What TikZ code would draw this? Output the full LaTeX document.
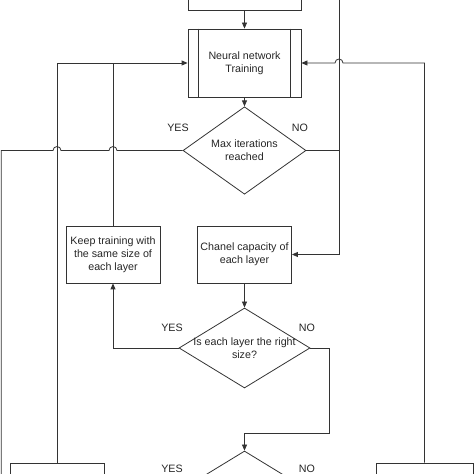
\documentclass[tikz,border=0pt]{standalone}
\usepackage{fontspec}
\setmainfont{Liberation Sans}
\usetikzlibrary{shapes.geometric,arrows.meta}

\begin{document}
\begin{tikzpicture}
  [x=1pt,y=1pt,line width=0.8pt,draw=black!80,text=black!85,
   every node/.style={font=\fontsize{10.7}{13}\selectfont,align=center},
   box/.style={rectangle,draw,inner sep=0pt},
   dec/.style={diamond,draw,inner sep=0pt,minimum width=131pt,minimum height=80pt},
   arr/.style={-{Triangle[length=6pt,width=5pt]}}]
  \useasboundingbox (0,0) rectangle (474,474);
  \clip (0,0) rectangle (474,474);

  \node[box,minimum width=113pt,minimum height=40pt] (tb) at (244.5,484) {};
  \node[box,minimum width=113pt,minimum height=68pt] (train) at (244.5,411) {Neural network\\Training};
  \draw (train.north west) ++(11,0) -- ++(0,-68);
  \draw (train.north east) ++(-11,0) -- ++(0,-68);
  \node[dec,minimum width=123pt,minimum height=75pt] (d1) at (244.5,323.5) {Max iterations\\reached};
  \node[box,minimum width=94pt,minimum height=57pt] (keep) at (113,219.5) {Keep training with\\the same size of\\each layer};
  \node[box,minimum width=94pt,minimum height=57pt] (chan) at (244.5,219.5) {Chanel capacity of\\each layer};
  \node[dec] (d2) at (244.5,126) {\makebox[0pt]{Is each layer the right}\\\makebox[0pt]{size?}};
  \node[dec] (d3) at (244.5,-17) {};
  \node[box,minimum width=94pt,minimum height=40pt] (bl) at (57,-9) {};
  \node[box,minimum width=97pt,minimum height=40pt] (br) at (424.5,-9) {};

  \node (y1) at (178,346) {YES};
  \node (n1) at (300,346) {NO};
  \node (y2) at (172,146) {YES};
  \node (n2) at (307,146) {NO};
  \node (y3) at (172,5) {YES};
  \node (n3) at (307,5) {NO};

  \coordinate (top) at (339,480);
  \coordinate (nc) at (339,219.5);
  \coordinate (sw) at (329,41);

  \foreach \from/\to in {tb/train,train/d1,chan/d2}
  \draw[arr] (\from) -- (\to);

  \draw[arr] (bl.north) |- (train.west);
  \draw (keep.north) -- (113,411);
  \draw[arr] (br.north) -- (424.5,411) -- (343,411) arc (0:180:4) -- (train.east);
  \draw (d1.west) -- (117,323.5) arc (0:180:4) -- (61,323.5) arc (0:180:4)
    -- (1.2,323.5) -- (1.2,-10);
  \draw (top) -- (nc);
  \draw[arr] (d1.east) -| (nc) -- (chan.east);
  \draw[arr] (d2.west) -| (keep.south);
  \draw[arr] (d2.east) -| (sw) -| (d3.north);

\end{tikzpicture}
\end{document}
